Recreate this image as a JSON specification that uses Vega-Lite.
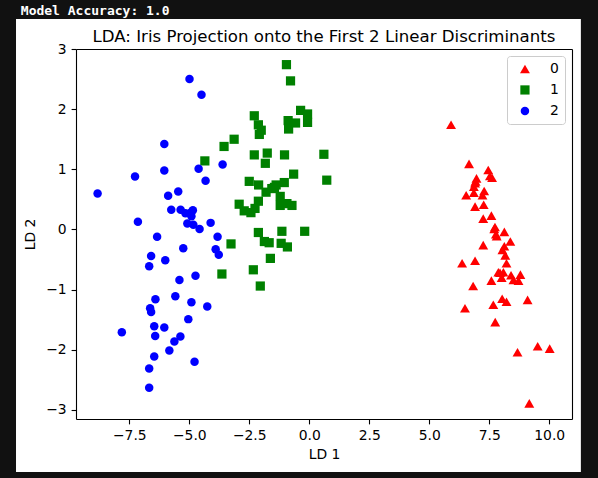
{
  "$schema": "https://vega.github.io/schema/vega-lite/v6.json",
  "width": 496,
  "height": 370,
  "autosize": {"type": "none"},
  "padding": {"left": 76, "top": 49, "right": 26, "bottom": 59},
  "background": "#111111",
  "config": {
    "view": {"stroke": null, "fill": "white"},
    "axis": {
      "grid": false,
      "domainColor": "black",
      "domainWidth": 1.1,
      "tickColor": "black",
      "tickWidth": 1.1,
      "tickSize": 4.9,
      "labelPadding": 4.9,
      "labelFont": "DejaVu Sans",
      "labelFontSize": 13.9,
      "labelColor": "black",
      "titleFont": "DejaVu Sans",
      "titleFontSize": 13.9,
      "titleFontWeight": "normal",
      "titleColor": "black"
    },
    "legend": {
      "orient": "top-right",
      "offset": 7,
      "zindex": 1,
      "fillColor": "white",
      "strokeColor": "#cccccc",
      "cornerRadius": 3,
      "padding": 6,
      "symbolOffset": 5,
      "labelOffset": 18,
      "rowPadding": 6,
      "labelFont": "DejaVu Sans",
      "labelFontSize": 13.9,
      "labelColor": "black",
      "symbolStrokeWidth": 0
    }
  },
  "resolve": {"axis": {"x": "independent", "y": "independent"}},
  "layer": [
    {
      "data": {"values": [{}]},
      "mark": {"type": "rect", "color": "white"},
      "encoding": {
        "x": {
          "datum": -12.22,
          "type": "quantitative",
          "scale": {"domain": [-9.72, 10.95], "nice": false, "zero": false},
          "axis": {"orient": "top", "labels": false, "ticks": false, "title": null, "domain": true, "zindex": 1}
        },
        "x2": {"datum": 11.32},
        "y": {
          "datum": 3.5,
          "type": "quantitative",
          "scale": {"domain": [-3.15, 3.0], "nice": false, "zero": false},
          "axis": {"orient": "right", "labels": false, "ticks": false, "title": null, "domain": true, "zindex": 1}
        },
        "y2": {"datum": -4.03}
      }
    },
    {
      "data": {"values": [{"label": "Model Accuracy: 1.0"}]},
      "mark": {"type": "text", "align": "left", "baseline": "middle", "font": "DejaVu Sans Mono", "fontSize": 13, "fontWeight": "bold", "color": "white"},
      "encoding": {
        "x": {"datum": -12.02, "type": "quantitative", "scale": {"domain": [-9.72, 10.95], "nice": false, "zero": false}, "axis": null},
        "y": {"datum": 3.633, "type": "quantitative", "scale": {"domain": [-3.15, 3.0], "nice": false, "zero": false}, "axis": null},
        "text": {"field": "label"}
      }
    },
    {
      "data": {"values": [{"label": "LDA: Iris Projection onto the First 2 Linear Discriminants"}]},
      "mark": {"type": "text", "align": "center", "baseline": "alphabetic", "font": "DejaVu Sans", "fontSize": 16.6, "color": "black"},
      "encoding": {
        "x": {"datum": 0.615, "type": "quantitative", "scale": {"domain": [-9.72, 10.95], "nice": false, "zero": false}, "axis": null},
        "y": {"datum": 3.116, "type": "quantitative", "scale": {"domain": [-3.15, 3.0], "nice": false, "zero": false}, "axis": null},
        "text": {"field": "label"}
      }
    },
    {
      "data": {
        "values": [
          {"ld1": 5.91, "ld2": 1.74, "cls": "0"},
          {"ld1": 6.66, "ld2": 1.09, "cls": "0"},
          {"ld1": 7.46, "ld2": 0.99, "cls": "0"},
          {"ld1": 7.53, "ld2": 0.89, "cls": "0"},
          {"ld1": 7.62, "ld2": 0.86, "cls": "0"},
          {"ld1": 6.97, "ld2": 0.85, "cls": "0"},
          {"ld1": 6.93, "ld2": 0.8, "cls": "0"},
          {"ld1": 6.91, "ld2": 0.77, "cls": "0"},
          {"ld1": 6.86, "ld2": 0.71, "cls": "0"},
          {"ld1": 7.29, "ld2": 0.64, "cls": "0"},
          {"ld1": 7.22, "ld2": 0.57, "cls": "0"},
          {"ld1": 6.54, "ld2": 0.57, "cls": "0"},
          {"ld1": 6.86, "ld2": 0.61, "cls": "0"},
          {"ld1": 7.27, "ld2": 0.41, "cls": "0"},
          {"ld1": 6.91, "ld2": 0.38, "cls": "0"},
          {"ld1": 7.59, "ld2": 0.23, "cls": "0"},
          {"ld1": 7.25, "ld2": 0.18, "cls": "0"},
          {"ld1": 7.74, "ld2": 0.04, "cls": "0"},
          {"ld1": 7.71, "ld2": 0.01, "cls": "0"},
          {"ld1": 7.78, "ld2": -0.08, "cls": "0"},
          {"ld1": 8.13, "ld2": -0.04, "cls": "0"},
          {"ld1": 7.81, "ld2": -0.11, "cls": "0"},
          {"ld1": 8.38, "ld2": -0.2, "cls": "0"},
          {"ld1": 7.25, "ld2": -0.26, "cls": "0"},
          {"ld1": 8.13, "ld2": -0.28, "cls": "0"},
          {"ld1": 8.05, "ld2": -0.34, "cls": "0"},
          {"ld1": 8.17, "ld2": -0.43, "cls": "0"},
          {"ld1": 8.22, "ld2": -0.56, "cls": "0"},
          {"ld1": 6.37, "ld2": -0.56, "cls": "0"},
          {"ld1": 6.91, "ld2": -0.52, "cls": "0"},
          {"ld1": 7.88, "ld2": -0.71, "cls": "0"},
          {"ld1": 7.95, "ld2": -0.72, "cls": "0"},
          {"ld1": 8.09, "ld2": -0.71, "cls": "0"},
          {"ld1": 8.41, "ld2": -0.76, "cls": "0"},
          {"ld1": 8.8, "ld2": -0.75, "cls": "0"},
          {"ld1": 8.02, "ld2": -0.8, "cls": "0"},
          {"ld1": 8.51, "ld2": -0.84, "cls": "0"},
          {"ld1": 8.72, "ld2": -0.85, "cls": "0"},
          {"ld1": 7.59, "ld2": -0.85, "cls": "0"},
          {"ld1": 6.83, "ld2": -0.94, "cls": "0"},
          {"ld1": 8.04, "ld2": -1.15, "cls": "0"},
          {"ld1": 8.22, "ld2": -1.2, "cls": "0"},
          {"ld1": 9.1, "ld2": -1.17, "cls": "0"},
          {"ld1": 7.67, "ld2": -1.25, "cls": "0"},
          {"ld1": 6.49, "ld2": -1.31, "cls": "0"},
          {"ld1": 7.75, "ld2": -1.54, "cls": "0"},
          {"ld1": 9.52, "ld2": -1.94, "cls": "0"},
          {"ld1": 10.02, "ld2": -1.98, "cls": "0"},
          {"ld1": 8.68, "ld2": -2.04, "cls": "0"},
          {"ld1": 9.17, "ld2": -2.89, "cls": "0"},
          {"ld1": -0.95, "ld2": 2.74, "cls": "1"},
          {"ld1": -0.78, "ld2": 2.47, "cls": "1"},
          {"ld1": -0.36, "ld2": 1.98, "cls": "1"},
          {"ld1": -0.07, "ld2": 1.92, "cls": "1"},
          {"ld1": -0.07, "ld2": 1.78, "cls": "1"},
          {"ld1": -0.57, "ld2": 1.77, "cls": "1"},
          {"ld1": -0.88, "ld2": 1.81, "cls": "1"},
          {"ld1": -0.86, "ld2": 1.67, "cls": "1"},
          {"ld1": -2.29, "ld2": 1.89, "cls": "1"},
          {"ld1": -2.12, "ld2": 1.74, "cls": "1"},
          {"ld1": -2.0, "ld2": 1.65, "cls": "1"},
          {"ld1": -2.08, "ld2": 1.58, "cls": "1"},
          {"ld1": -3.13, "ld2": 1.5, "cls": "1"},
          {"ld1": -3.55, "ld2": 1.38, "cls": "1"},
          {"ld1": -4.35, "ld2": 1.14, "cls": "1"},
          {"ld1": -2.29, "ld2": 1.24, "cls": "1"},
          {"ld1": -1.75, "ld2": 1.27, "cls": "1"},
          {"ld1": -1.83, "ld2": 1.1, "cls": "1"},
          {"ld1": -1.03, "ld2": 1.24, "cls": "1"},
          {"ld1": 0.61, "ld2": 1.25, "cls": "1"},
          {"ld1": -0.65, "ld2": 0.92, "cls": "1"},
          {"ld1": 0.73, "ld2": 0.82, "cls": "1"},
          {"ld1": -2.5, "ld2": 0.8, "cls": "1"},
          {"ld1": -2.11, "ld2": 0.74, "cls": "1"},
          {"ld1": -1.04, "ld2": 0.78, "cls": "1"},
          {"ld1": -1.38, "ld2": 0.74, "cls": "1"},
          {"ld1": -1.45, "ld2": 0.7, "cls": "1"},
          {"ld1": -1.56, "ld2": 0.68, "cls": "1"},
          {"ld1": -1.8, "ld2": 0.62, "cls": "1"},
          {"ld1": -1.21, "ld2": 0.55, "cls": "1"},
          {"ld1": -2.12, "ld2": 0.47, "cls": "1"},
          {"ld1": -2.92, "ld2": 0.42, "cls": "1"},
          {"ld1": -1.21, "ld2": 0.4, "cls": "1"},
          {"ld1": -0.93, "ld2": 0.43, "cls": "1"},
          {"ld1": -0.72, "ld2": 0.4, "cls": "1"},
          {"ld1": -2.26, "ld2": 0.35, "cls": "1"},
          {"ld1": -2.71, "ld2": 0.31, "cls": "1"},
          {"ld1": -2.43, "ld2": 0.28, "cls": "1"},
          {"ld1": -2.12, "ld2": -0.05, "cls": "1"},
          {"ld1": -1.14, "ld2": -0.03, "cls": "1"},
          {"ld1": -0.19, "ld2": -0.03, "cls": "1"},
          {"ld1": -3.26, "ld2": -0.24, "cls": "1"},
          {"ld1": -1.87, "ld2": -0.2, "cls": "1"},
          {"ld1": -1.67, "ld2": -0.22, "cls": "1"},
          {"ld1": -1.17, "ld2": -0.23, "cls": "1"},
          {"ld1": -0.91, "ld2": -0.29, "cls": "1"},
          {"ld1": -1.62, "ld2": -0.48, "cls": "1"},
          {"ld1": -2.33, "ld2": -0.67, "cls": "1"},
          {"ld1": -3.64, "ld2": -0.74, "cls": "1"},
          {"ld1": -2.04, "ld2": -0.94, "cls": "1"},
          {"ld1": -4.99, "ld2": 2.5, "cls": "2"},
          {"ld1": -4.49, "ld2": 2.24, "cls": "2"},
          {"ld1": -6.04, "ld2": 1.42, "cls": "2"},
          {"ld1": -6.04, "ld2": 0.98, "cls": "2"},
          {"ld1": -4.61, "ld2": 1.01, "cls": "2"},
          {"ld1": -3.61, "ld2": 1.08, "cls": "2"},
          {"ld1": -4.32, "ld2": 0.81, "cls": "2"},
          {"ld1": -7.26, "ld2": 0.88, "cls": "2"},
          {"ld1": -8.82, "ld2": 0.6, "cls": "2"},
          {"ld1": -5.46, "ld2": 0.63, "cls": "2"},
          {"ld1": -5.88, "ld2": 0.56, "cls": "2"},
          {"ld1": -5.75, "ld2": 0.33, "cls": "2"},
          {"ld1": -5.36, "ld2": 0.33, "cls": "2"},
          {"ld1": -5.16, "ld2": 0.27, "cls": "2"},
          {"ld1": -4.85, "ld2": 0.32, "cls": "2"},
          {"ld1": -4.95, "ld2": 0.28, "cls": "2"},
          {"ld1": -4.91, "ld2": 0.22, "cls": "2"},
          {"ld1": -5.08, "ld2": 0.1, "cls": "2"},
          {"ld1": -4.83, "ld2": 0.08, "cls": "2"},
          {"ld1": -4.57, "ld2": 0.01, "cls": "2"},
          {"ld1": -4.11, "ld2": 0.11, "cls": "2"},
          {"ld1": -7.14, "ld2": 0.13, "cls": "2"},
          {"ld1": -6.34, "ld2": -0.12, "cls": "2"},
          {"ld1": -3.82, "ld2": -0.12, "cls": "2"},
          {"ld1": -5.25, "ld2": -0.31, "cls": "2"},
          {"ld1": -3.9, "ld2": -0.33, "cls": "2"},
          {"ld1": -3.77, "ld2": -0.42, "cls": "2"},
          {"ld1": -6.59, "ld2": -0.44, "cls": "2"},
          {"ld1": -6.0, "ld2": -0.51, "cls": "2"},
          {"ld1": -6.67, "ld2": -0.61, "cls": "2"},
          {"ld1": -4.74, "ld2": -0.77, "cls": "2"},
          {"ld1": -5.41, "ld2": -0.84, "cls": "2"},
          {"ld1": -6.41, "ld2": -1.16, "cls": "2"},
          {"ld1": -5.58, "ld2": -1.11, "cls": "2"},
          {"ld1": -4.91, "ld2": -1.21, "cls": "2"},
          {"ld1": -4.25, "ld2": -1.28, "cls": "2"},
          {"ld1": -6.63, "ld2": -1.31, "cls": "2"},
          {"ld1": -6.59, "ld2": -1.37, "cls": "2"},
          {"ld1": -5.04, "ld2": -1.49, "cls": "2"},
          {"ld1": -7.81, "ld2": -1.71, "cls": "2"},
          {"ld1": -6.46, "ld2": -1.61, "cls": "2"},
          {"ld1": -6.04, "ld2": -1.63, "cls": "2"},
          {"ld1": -6.42, "ld2": -1.77, "cls": "2"},
          {"ld1": -5.37, "ld2": -1.78, "cls": "2"},
          {"ld1": -5.62, "ld2": -1.86, "cls": "2"},
          {"ld1": -5.83, "ld2": -2.01, "cls": "2"},
          {"ld1": -6.46, "ld2": -2.11, "cls": "2"},
          {"ld1": -4.78, "ld2": -2.2, "cls": "2"},
          {"ld1": -6.67, "ld2": -2.31, "cls": "2"},
          {"ld1": -6.67, "ld2": -2.63, "cls": "2"}
        ]
      },
      "mark": {"type": "point", "filled": true, "opacity": 1, "strokeWidth": 0},
      "encoding": {
        "x": {
          "field": "ld1",
          "type": "quantitative",
          "title": "LD 1",
          "scale": {"domain": [-9.72, 10.95], "nice": false, "zero": false},
          "axis": {"orient": "bottom", "zindex": 1, "values": [-7.5, -5, -2.5, 0, 2.5, 5, 7.5, 10], "format": ".1f", "titlePadding": 5}
        },
        "y": {
          "field": "ld2",
          "type": "quantitative",
          "title": "LD 2",
          "scale": {"domain": [-3.15, 3.0], "nice": false, "zero": false},
          "axis": {"orient": "left", "zindex": 1, "values": [-3, -2, -1, 0, 1, 2, 3], "format": "d", "titlePadding": 8}
        },
        "color": {
          "field": "cls",
          "type": "nominal",
          "scale": {"domain": ["0", "1", "2"], "range": ["#ff0000", "#008000", "#0000ff"]},
          "legend": {"title": null}
        },
        "shape": {
          "field": "cls",
          "type": "nominal",
          "scale": {"domain": ["0", "1", "2"], "range": ["triangle-up", "square", "circle"]},
          "legend": {"title": null}
        },
        "size": {
          "field": "cls",
          "type": "nominal",
          "scale": {"domain": ["0", "1", "2"], "range": [98, 72, 78]},
          "legend": {"title": null}
        }
      }
    }
  ]
}
